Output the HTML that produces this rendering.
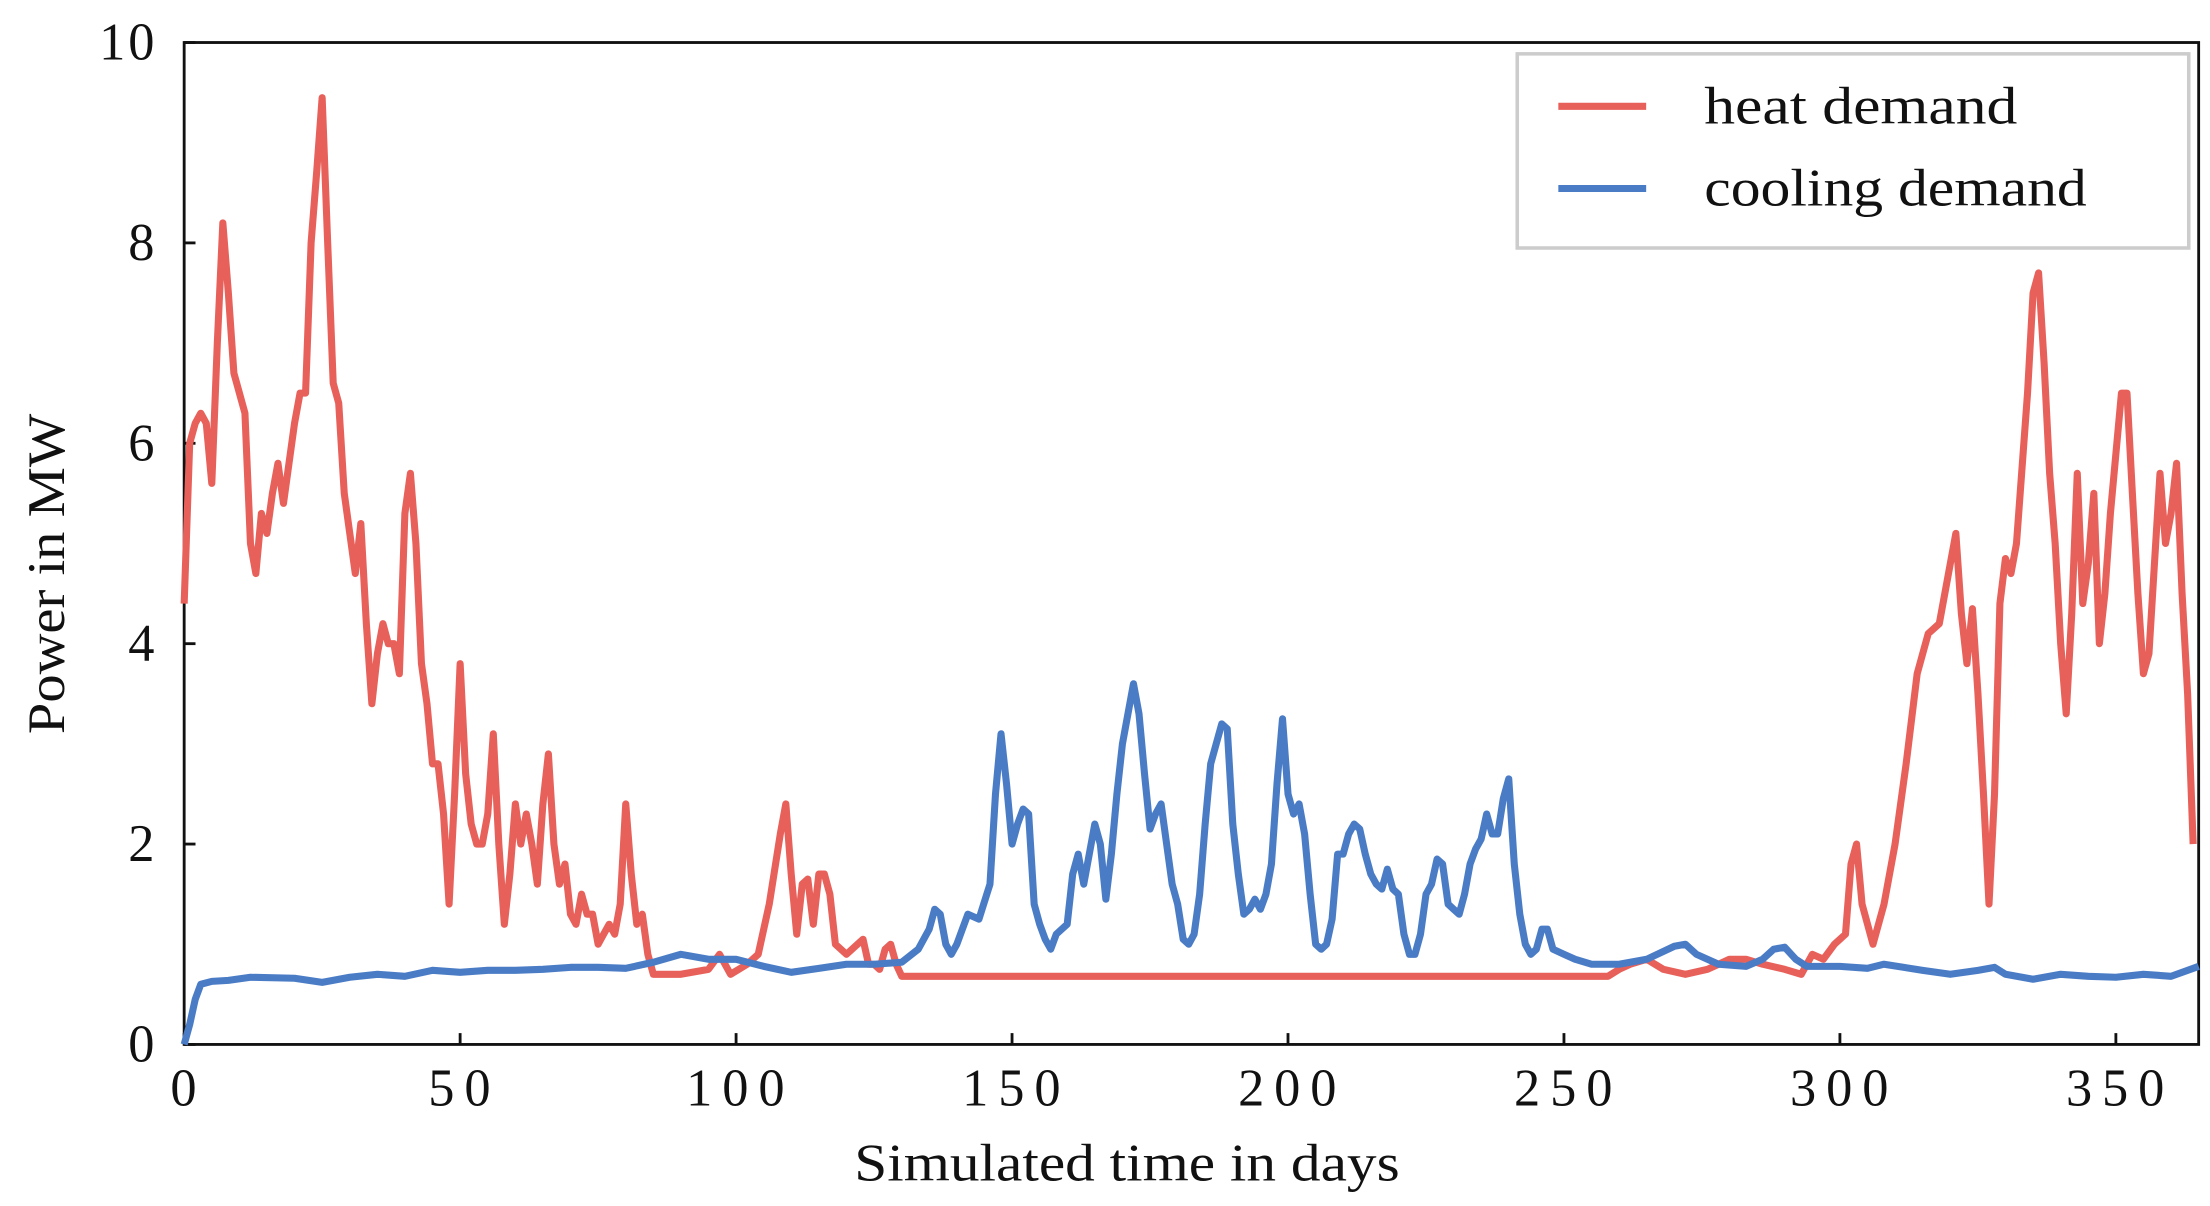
<!DOCTYPE html>
<html><head><meta charset="utf-8"><style>
html,body{margin:0;padding:0;background:#fff}
svg{display:block}
text{font-family:"Liberation Serif","DejaVu Serif",serif;fill:#111}
</style></head><body>
<svg id="s" width="2210" height="1206" viewBox="0 0 1560 851" preserveAspectRatio="none" xmlns="http://www.w3.org/2000/svg">
<rect x="130" y="30" width="1422" height="707" fill="none" stroke="#111" stroke-width="2"/>
<g id="ticks" stroke="#111" stroke-width="2"></g>
<g id="lab" font-size="37"></g>
<polyline id="heat" fill="none" stroke="#e8605a" stroke-width="5" stroke-linejoin="round"/>
<polyline id="cool" fill="none" stroke="#4a7cc6" stroke-width="5" stroke-linejoin="round"/>
<rect x="1071" y="38" width="474" height="137" fill="#fff" stroke="#ccc" stroke-width="2.5"/>
<line x1="1100" y1="75" x2="1162" y2="75" stroke="#e8605a" stroke-width="5"/>
<line x1="1100" y1="133" x2="1162" y2="133" stroke="#4a7cc6" stroke-width="5"/>
<text x="1203" y="87" font-size="37" textLength="221" lengthAdjust="spacingAndGlyphs">heat demand</text>
<text x="1203" y="145" font-size="37" textLength="270" lengthAdjust="spacingAndGlyphs">cooling demand</text>
<text x="603" y="833" font-size="37" textLength="385" lengthAdjust="spacingAndGlyphs">Simulated time in days</text>
<text transform="translate(45,518) rotate(-90)" font-size="37" textLength="226" lengthAdjust="spacingAndGlyphs">Power in MW</text>
</svg>
<script>
var X=function(d){return 130+d*(1422/365)},Y=function(v){return 737-v*70.7};
var heat=[0,4.4,1,6.0,2,6.2,3,6.3,4,6.2,5,5.6,6,7.0,7,8.2,8,7.5,9,6.7,10,6.5,11,6.3,12,5.0,13,4.7,14,5.3,15,5.1,16,5.5,17,5.8,18,5.4,19,5.8,20,6.2,21,6.5,22,6.5,23,8.0,24,8.7,25,9.45,26,8.0,27,6.6,28,6.4,29,5.5,30,5.1,31,4.7,32,5.2,33,4.2,34,3.4,35,3.9,36,4.2,37,4.0,38,4.0,39,3.7,40,5.3,41,5.7,42,5.0,43,3.8,44,3.4,45,2.8,46,2.8,47,2.3,48,1.4,49,2.5,50,3.8,51,2.7,52,2.2,53,2.0,54,2.0,55,2.3,56,3.1,57,2.0,58,1.2,59,1.7,60,2.4,61,2.0,62,2.3,63,2.0,64,1.6,65,2.4,66,2.9,67,2.0,68,1.6,69,1.8,70,1.3,71,1.2,72,1.5,73,1.3,74,1.3,75,1.0,76,1.1,77,1.2,78,1.1,79,1.4,80,2.4,81,1.7,82,1.2,83,1.3,84,0.9,85,0.7,90,0.7,95,0.75,97,0.9,99,0.7,102,0.8,104,0.9,106,1.4,108,2.1,109,2.4,110,1.7,111,1.1,112,1.6,113,1.65,114,1.2,115,1.7,116,1.7,117,1.5,118,1.0,120,0.9,122,1.0,123,1.05,124,0.8,125,0.8,126,0.75,127,0.95,128,1.0,129,0.8,130,0.68,258,0.68,260,0.75,262,0.8,265,0.85,268,0.75,272,0.7,276,0.75,280,0.85,283,0.85,286,0.8,290,0.75,293,0.7,295,0.9,297,0.85,299,1.0,301,1.1,302,1.8,303,2.0,304,1.4,306,1.0,308,1.4,310,2.0,312,2.8,314,3.7,316,4.1,318,4.2,320,4.8,321,5.1,322,4.3,323,3.8,324,4.35,325,3.5,326,2.5,327,1.4,328,2.5,329,4.4,330,4.85,331,4.7,332,5.0,334,6.5,335,7.5,336,7.7,337,6.8,338,5.7,339,5.0,340,4.0,341,3.3,342,4.3,343,5.7,344,4.4,345,4.8,346,5.5,347,4.0,348,4.5,349,5.3,350,5.9,351,6.5,352,6.5,353,5.5,354,4.5,355,3.7,356,3.9,357,4.8,358,5.7,359,5.0,360,5.3,361,5.8,362,4.5,363,3.5,364,2.0];
var cool=[0,0.0,1,0.2,2,0.45,3,0.6,5,0.63,8,0.64,12,0.67,20,0.66,25,0.62,30,0.67,35,0.7,40,0.68,45,0.74,50,0.72,55,0.74,60,0.74,65,0.75,70,0.77,75,0.77,80,0.76,85,0.82,90,0.9,95,0.85,100,0.85,105,0.78,110,0.72,115,0.76,120,0.8,125,0.8,130,0.82,133,0.95,135,1.15,136,1.35,137,1.3,138,1.0,139,0.9,140,1.0,142,1.3,144,1.25,146,1.6,147,2.5,148,3.1,149,2.6,150,2.0,151,2.2,152,2.35,153,2.3,154,1.4,155,1.2,156,1.05,157,0.95,158,1.1,160,1.2,161,1.7,162,1.9,163,1.6,164,1.9,165,2.2,166,2.0,167,1.45,168,1.9,169,2.5,170,3.0,171,3.3,172,3.6,173,3.3,174,2.7,175,2.15,176,2.3,177,2.4,178,2.0,179,1.6,180,1.4,181,1.05,182,1.0,183,1.1,184,1.5,185,2.2,186,2.8,187,3.0,188,3.2,189,3.15,190,2.2,191,1.7,192,1.3,193,1.35,194,1.45,195,1.35,196,1.5,197,1.8,198,2.6,199,3.25,200,2.5,201,2.3,202,2.4,203,2.1,204,1.5,205,1.0,206,0.95,207,1.0,208,1.25,209,1.9,210,1.9,211,2.1,212,2.2,213,2.15,214,1.9,215,1.7,216,1.6,217,1.55,218,1.75,219,1.55,220,1.5,221,1.1,222,0.9,223,0.9,224,1.1,225,1.5,226,1.6,227,1.85,228,1.8,229,1.4,230,1.35,231,1.3,232,1.5,233,1.8,234,1.95,235,2.05,236,2.3,237,2.1,238,2.1,239,2.45,240,2.65,241,1.8,242,1.3,243,1.0,244,0.9,245,0.95,246,1.15,247,1.15,248,0.95,250,0.9,252,0.85,255,0.8,260,0.8,265,0.85,270,0.98,272,1.0,274,0.9,278,0.8,283,0.78,286,0.85,288,0.95,290,0.97,292,0.85,294,0.78,300,0.78,305,0.76,308,0.8,315,0.74,320,0.7,325,0.74,328,0.77,330,0.7,335,0.65,340,0.7,345,0.68,350,0.67,355,0.7,360,0.68,365,0.78];
function pts(a){var s=[];for(var i=0;i<a.length;i+=2)s.push(X(a[i]).toFixed(1)+","+Y(a[i+1]).toFixed(1));return s.join(" ");}
document.getElementById("heat").setAttribute("points",pts(heat));
document.getElementById("cool").setAttribute("points",pts(cool));
var t="",l="";
for(var d=0;d<=350;d+=50){var x=X(d);t+='<line x1="'+x+'" y1="737" x2="'+x+'" y2="729"/>';
l+='<text x="'+(x+3)+'" y="780" text-anchor="middle" letter-spacing="7">'+d+'</text>';}
for(var v=0;v<=10;v+=2){var y=Y(v);t+='<line x1="130" y1="'+y+'" x2="138" y2="'+y+'"/>';
l+='<text x="111" y="'+(y+12)+'" text-anchor="end" letter-spacing="2">'+v+'</text>';}
document.getElementById("ticks").innerHTML=t;document.getElementById("lab").innerHTML=l;
</script>
</body></html>
